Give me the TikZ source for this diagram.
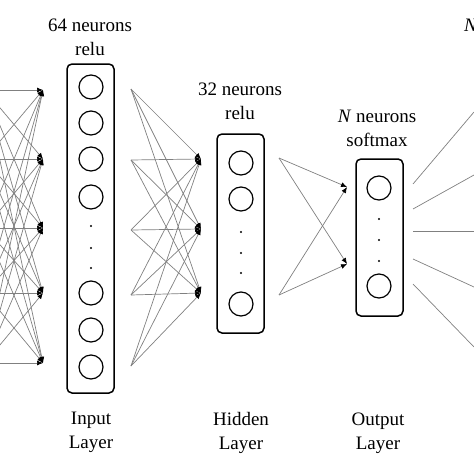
\documentclass[tikz,border=0pt]{standalone}
\usepackage{fontspec}
\setmainfont{Liberation Serif}
\usetikzlibrary{arrows.meta}

\tikzset{
  layerbox/.style={draw, rounded corners=5pt, line width=1.5pt, minimum width=47pt, inner sep=0pt},
  neuron/.style={draw, circle, line width=1.2pt, minimum size=24pt, inner sep=0pt},
  vdot/.style={fill, circle, minimum size=2.2pt, inner sep=0pt},
  link/.style={draw=gray, line width=0.7pt, -{Latex[length=6pt,width=5pt,color=black]}},
  plainlink/.style={draw=gray, line width=0.7pt},
  lbl/.style={font=\fontsize{19}{24}\selectfont, align=center, inner sep=0pt},
}

\begin{document}
\begin{tikzpicture}[x=1pt,y=-1pt]
\useasboundingbox (0,0) rectangle (474,474);
\clip (0,0) rectangle (474,474);

% layer boxes
\node[layerbox, minimum height=329pt] (inbox)  at (90.5,228.5) {};
\node[layerbox, minimum height=199pt] (hidbox) at (240.5,233.5) {};
\node[layerbox, minimum height=157pt] (outbox) at (379.5,237.5) {};

% neurons
\foreach \i/\y in {1/87,2/123,3/159,4/197,5/293,6/330,7/367}
  \node[neuron] (in\i) at (91,\y) {};
\foreach \i/\y in {1/226,2/248,3/268}
  \node[vdot] (indot\i) at (91,\y) {};
\foreach \i/\y in {1/163,2/199,3/304}
  \node[neuron] (hid\i) at (241,\y) {};
\foreach \i/\y in {1/232,2/253,3/273}
  \node[vdot] (hiddot\i) at (241,\y) {};
\foreach \i/\y in {1/188,2/286}
  \node[neuron] (out\i) at (379,\y) {};
\foreach \i/\y in {1/219,2/240,3/261}
  \node[vdot] (outdot\i) at (379,\y) {};

% labels
\node[lbl] (intop)  at (90,37)  {64 neurons\\relu};
\node[lbl] (hidtop) at (240,101) {32 neurons\\relu};
\node[lbl] (outtop) at (377,128) {\textit{N} neurons\\softmax};
\node[lbl] (inlbl)  at (91,432)  {Input\\Layer};
\node[lbl] (hidlbl) at (241,433) {Hidden\\Layer};
\node[lbl] (outlbl) at (378,433) {Output\\Layer};
\node[lbl, anchor=west] (cls) at (464,25) {\textit{N}};

% features -> input layer
\foreach \i/\y in {1/90,2/159,3/228,4/293,5/363} {
  \coordinate (f\i) at (-15,\y);
  \coordinate (a\i) at (43,\y);
}
\foreach \i in {1,...,5}
  \foreach \j in {1,...,5}
    \draw[link] (f\i) -- (a\j);

% input -> hidden layer
\foreach \i/\y in {1/89,2/160,3/230,4/295,5/366}
  \coordinate (s\i) at (131,\y);
\foreach \j/\y in {1/159,2/229,3/293}
  \coordinate (h\j) at (201,\y);
\foreach \i in {1,...,5}
  \foreach \j in {1,...,3}
    \draw[link] (s\i) -- (h\j);

% hidden -> output layer
\coordinate (t1) at (279,158);
\coordinate (t2) at (279,295);
\coordinate (o1) at (347,187);
\coordinate (o2) at (347,264);
\foreach \i in {1,2}
  \foreach \j in {1,2}
    \draw[link] (t\i) -- (o\j);

% output lines
\foreach \i/\y/\e in {1/184/112,2/209/175,3/231/231,4/259/287,5/284/347} {
  \coordinate (r\i) at (413,\y);
  \coordinate (e\i) at (474,\e);
  \draw[plainlink] (r\i) -- (e\i);
}
\end{tikzpicture}
\end{document}
